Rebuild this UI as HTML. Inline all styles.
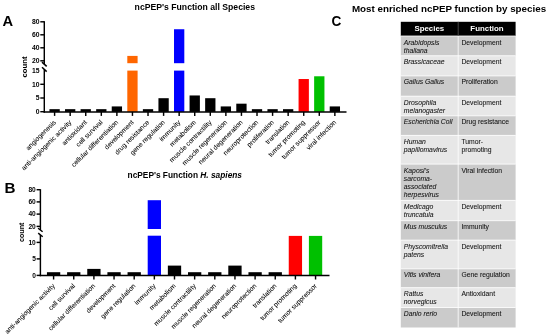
<!DOCTYPE html><html><head><meta charset="utf-8"><style>html,body{margin:0;padding:0;background:#fff;width:550px;height:335px;overflow:hidden}svg{display:block}</style></head><body>
<svg width="550" height="335" viewBox="0 0 550 335">
<rect width="550" height="335" fill="#fff"/>
<text x="194.8" y="10.3" text-anchor="middle" font-family='"Liberation Sans", Arial, sans-serif' font-weight="bold" font-size="8.67">ncPEP&#39;s Function all Species</text>
<text x="184.8" y="178.2" text-anchor="middle" font-family='"Liberation Sans", Arial, sans-serif' font-weight="bold" font-size="8.33">ncPEP&#39;s Function <tspan font-style="italic">H. sapiens</tspan></text>
<text x="2.4" y="25.7" font-family='"Liberation Sans", Arial, sans-serif' font-weight="bold" font-size="14.7">A</text>
<text x="4.6" y="193.4" font-family='"Liberation Sans", Arial, sans-serif' font-weight="bold" font-size="15.2">B</text>
<text transform="translate(331.4,26.0) scale(0.92,1)" font-family='"Liberation Sans", Arial, sans-serif' font-weight="bold" font-size="14.8">C</text>
<text x="449" y="12" text-anchor="middle" font-family='"Liberation Sans", Arial, sans-serif' font-weight="bold" font-size="9.8">Most enriched ncPEP function by species</text>
<rect x="49.45" y="109.16" width="10.30" height="2.74" fill="#000"/>
<rect x="65.02" y="109.16" width="10.30" height="2.74" fill="#000"/>
<rect x="80.59" y="109.16" width="10.30" height="2.74" fill="#000"/>
<rect x="96.16" y="109.16" width="10.30" height="2.74" fill="#000"/>
<rect x="111.73" y="106.42" width="10.30" height="5.48" fill="#000"/>
<rect x="127.30" y="70.60" width="10.30" height="41.30" fill="#ff6600"/>
<rect x="127.30" y="55.91" width="10.30" height="7.29" fill="#ff6600"/>
<rect x="142.87" y="109.16" width="10.30" height="2.74" fill="#000"/>
<rect x="158.44" y="98.20" width="10.30" height="13.70" fill="#000"/>
<rect x="174.01" y="70.60" width="10.30" height="41.30" fill="#0000ff"/>
<rect x="174.01" y="29.24" width="10.30" height="33.96" fill="#0000ff"/>
<rect x="189.58" y="95.46" width="10.30" height="16.44" fill="#000"/>
<rect x="205.15" y="98.20" width="10.30" height="13.70" fill="#000"/>
<rect x="220.72" y="106.42" width="10.30" height="5.48" fill="#000"/>
<rect x="236.29" y="103.68" width="10.30" height="8.22" fill="#000"/>
<rect x="251.86" y="109.16" width="10.30" height="2.74" fill="#000"/>
<rect x="267.43" y="109.16" width="10.30" height="2.74" fill="#000"/>
<rect x="283.00" y="109.16" width="10.30" height="2.74" fill="#000"/>
<rect x="298.57" y="79.02" width="10.30" height="32.88" fill="#ff0000"/>
<rect x="314.14" y="76.28" width="10.30" height="35.62" fill="#00c000"/>
<rect x="329.71" y="106.42" width="10.30" height="5.48" fill="#000"/>
<g stroke="#000" stroke-width="1.45" fill="none">
<line x1="44.3" y1="21.2" x2="44.3" y2="64.2"/>
<line x1="44.3" y1="69.4" x2="44.3" y2="112.625"/>
<line x1="42.0" y1="62.1" x2="46.7" y2="66.4"/>
<line x1="42.0" y1="67.2" x2="46.7" y2="71.6"/>
<line x1="43.574999999999996" y1="111.9" x2="346.5" y2="111.9"/>
<line x1="40.3" y1="21.8" x2="44.3" y2="21.8"/>
<line x1="40.3" y1="34.8" x2="44.3" y2="34.8"/>
<line x1="40.3" y1="47.8" x2="44.3" y2="47.8"/>
<line x1="40.3" y1="60.8" x2="44.3" y2="60.8"/>
<line x1="40.3" y1="84.3" x2="44.3" y2="84.3"/>
<line x1="40.3" y1="98.0" x2="44.3" y2="98.0"/>
<line x1="40.3" y1="111.7" x2="44.3" y2="111.7"/>
<line x1="54.60" y1="111.9" x2="54.60" y2="115.9"/>
<line x1="70.17" y1="111.9" x2="70.17" y2="115.9"/>
<line x1="85.74" y1="111.9" x2="85.74" y2="115.9"/>
<line x1="101.31" y1="111.9" x2="101.31" y2="115.9"/>
<line x1="116.88" y1="111.9" x2="116.88" y2="115.9"/>
<line x1="132.45" y1="111.9" x2="132.45" y2="115.9"/>
<line x1="148.02" y1="111.9" x2="148.02" y2="115.9"/>
<line x1="163.59" y1="111.9" x2="163.59" y2="115.9"/>
<line x1="179.16" y1="111.9" x2="179.16" y2="115.9"/>
<line x1="194.73" y1="111.9" x2="194.73" y2="115.9"/>
<line x1="210.30" y1="111.9" x2="210.30" y2="115.9"/>
<line x1="225.87" y1="111.9" x2="225.87" y2="115.9"/>
<line x1="241.44" y1="111.9" x2="241.44" y2="115.9"/>
<line x1="257.01" y1="111.9" x2="257.01" y2="115.9"/>
<line x1="272.58" y1="111.9" x2="272.58" y2="115.9"/>
<line x1="288.15" y1="111.9" x2="288.15" y2="115.9"/>
<line x1="303.72" y1="111.9" x2="303.72" y2="115.9"/>
<line x1="319.29" y1="111.9" x2="319.29" y2="115.9"/>
<line x1="334.86" y1="111.9" x2="334.86" y2="115.9"/>
</g>
<g font-family='"Liberation Sans", Arial, sans-serif' font-weight="bold" font-size="6.8" text-anchor="end" fill="#000">
<text x="39.5" y="24.2">80</text>
<text x="39.5" y="37.199999999999996">60</text>
<text x="39.5" y="50.199999999999996">40</text>
<text x="39.5" y="63.199999999999996">20</text>
<text x="39.5" y="73.0">15</text>
<text x="39.5" y="86.7">10</text>
<text x="39.5" y="100.4">5</text>
<text x="39.5" y="114.10000000000001">0</text>
</g>
<text transform="translate(26.9,67.0) rotate(-90)" text-anchor="middle" font-family='"Liberation Sans", Arial, sans-serif' font-weight="bold" font-size="7.7">count</text>
<g font-family='"Liberation Sans", Arial, sans-serif' font-size="6.7" text-anchor="end" fill="#000" stroke="#000" stroke-width="0.05">
<text transform="translate(56.30,122.80) rotate(-45)">angiogenesis</text>
<text transform="translate(71.87,122.80) rotate(-45)">anti-angiogenic activity</text>
<text transform="translate(87.44,122.80) rotate(-45)">antioxidant</text>
<text transform="translate(103.01,122.80) rotate(-45)">cell survival</text>
<text transform="translate(118.58,122.80) rotate(-45)">cellular differentiation</text>
<text transform="translate(134.15,122.80) rotate(-45)">development</text>
<text transform="translate(149.72,122.80) rotate(-45)">drug resistance</text>
<text transform="translate(165.29,122.80) rotate(-45)">gene regulation</text>
<text transform="translate(180.86,122.80) rotate(-45)">immunity</text>
<text transform="translate(196.43,122.80) rotate(-45)">metabolism</text>
<text transform="translate(212.00,122.80) rotate(-45)">muscle contractility</text>
<text transform="translate(227.57,122.80) rotate(-45)">muscle regeneration</text>
<text transform="translate(243.14,122.80) rotate(-45)">neural degeneration</text>
<text transform="translate(258.71,122.80) rotate(-45)">neuroprotection</text>
<text transform="translate(274.28,122.80) rotate(-45)">proliferation</text>
<text transform="translate(289.85,122.80) rotate(-45)">translation</text>
<text transform="translate(305.42,122.80) rotate(-45)">tumor promoting</text>
<text transform="translate(320.99,122.80) rotate(-45)">tumor suppressor</text>
<text transform="translate(336.56,122.80) rotate(-45)">viral infection</text>
</g>
<rect x="46.95" y="272.20" width="13.30" height="3.30" fill="#000"/>
<rect x="67.10" y="272.20" width="13.30" height="3.30" fill="#000"/>
<rect x="87.25" y="268.90" width="13.30" height="6.60" fill="#000"/>
<rect x="107.40" y="272.20" width="13.30" height="3.30" fill="#000"/>
<rect x="127.55" y="272.20" width="13.30" height="3.30" fill="#000"/>
<rect x="147.70" y="235.70" width="13.30" height="39.80" fill="#0000ff"/>
<rect x="147.70" y="200.21" width="13.30" height="28.79" fill="#0000ff"/>
<rect x="167.85" y="265.60" width="13.30" height="9.90" fill="#000"/>
<rect x="188.00" y="272.20" width="13.30" height="3.30" fill="#000"/>
<rect x="208.15" y="272.20" width="13.30" height="3.30" fill="#000"/>
<rect x="228.30" y="265.60" width="13.30" height="9.90" fill="#000"/>
<rect x="248.45" y="272.20" width="13.30" height="3.30" fill="#000"/>
<rect x="268.60" y="272.20" width="13.30" height="3.30" fill="#000"/>
<rect x="288.75" y="235.90" width="13.30" height="39.60" fill="#ff0000"/>
<rect x="308.90" y="235.90" width="13.30" height="39.60" fill="#00c000"/>
<g stroke="#000" stroke-width="1.45" fill="none">
<line x1="40.4" y1="189.2" x2="40.4" y2="230.0"/>
<line x1="40.4" y1="234.9" x2="40.4" y2="276.225"/>
<line x1="38.1" y1="228.3" x2="42.6" y2="231.8"/>
<line x1="38.2" y1="233.1" x2="42.7" y2="236.7"/>
<line x1="39.675" y1="275.5" x2="329.5" y2="275.5"/>
<line x1="36.6" y1="189.7" x2="40.4" y2="189.7"/>
<line x1="36.6" y1="201.9" x2="40.4" y2="201.9"/>
<line x1="36.6" y1="214.1" x2="40.4" y2="214.1"/>
<line x1="36.6" y1="226.4" x2="40.4" y2="226.4"/>
<line x1="36.6" y1="242.4" x2="40.4" y2="242.4"/>
<line x1="36.6" y1="258.9" x2="40.4" y2="258.9"/>
<line x1="36.6" y1="275.4" x2="40.4" y2="275.4"/>
<line x1="53.60" y1="275.5" x2="53.60" y2="279.5"/>
<line x1="73.75" y1="275.5" x2="73.75" y2="279.5"/>
<line x1="93.90" y1="275.5" x2="93.90" y2="279.5"/>
<line x1="114.05" y1="275.5" x2="114.05" y2="279.5"/>
<line x1="134.20" y1="275.5" x2="134.20" y2="279.5"/>
<line x1="154.35" y1="275.5" x2="154.35" y2="279.5"/>
<line x1="174.50" y1="275.5" x2="174.50" y2="279.5"/>
<line x1="194.65" y1="275.5" x2="194.65" y2="279.5"/>
<line x1="214.80" y1="275.5" x2="214.80" y2="279.5"/>
<line x1="234.95" y1="275.5" x2="234.95" y2="279.5"/>
<line x1="255.10" y1="275.5" x2="255.10" y2="279.5"/>
<line x1="275.25" y1="275.5" x2="275.25" y2="279.5"/>
<line x1="295.40" y1="275.5" x2="295.40" y2="279.5"/>
<line x1="315.55" y1="275.5" x2="315.55" y2="279.5"/>
</g>
<g font-family='"Liberation Sans", Arial, sans-serif' font-weight="bold" font-size="6.6" text-anchor="end" fill="#000">
<text x="35.800000000000004" y="192.0">80</text>
<text x="35.800000000000004" y="204.20000000000002">60</text>
<text x="35.800000000000004" y="216.4">40</text>
<text x="35.800000000000004" y="228.70000000000002">20</text>
<text x="35.800000000000004" y="244.70000000000002">10</text>
<text x="35.800000000000004" y="261.2">5</text>
<text x="35.800000000000004" y="277.7">0</text>
</g>
<text transform="translate(23.8,232.3) rotate(-90)" text-anchor="middle" font-family='"Liberation Sans", Arial, sans-serif' font-weight="bold" font-size="7.2">count</text>
<g font-family='"Liberation Sans", Arial, sans-serif' font-size="6.7" text-anchor="end" fill="#000" stroke="#000" stroke-width="0.05">
<text transform="translate(55.30,286.40) rotate(-45)">anti-angiogenic activity</text>
<text transform="translate(75.45,286.40) rotate(-45)">cell survival</text>
<text transform="translate(95.60,286.40) rotate(-45)">cellular differentiation</text>
<text transform="translate(115.75,286.40) rotate(-45)">development</text>
<text transform="translate(135.90,286.40) rotate(-45)">gene regulation</text>
<text transform="translate(156.05,286.40) rotate(-45)">immunity</text>
<text transform="translate(176.20,286.40) rotate(-45)">metabolism</text>
<text transform="translate(196.35,286.40) rotate(-45)">muscle contractility</text>
<text transform="translate(216.50,286.40) rotate(-45)">muscle regeneration</text>
<text transform="translate(236.65,286.40) rotate(-45)">neural degeneration</text>
<text transform="translate(256.80,286.40) rotate(-45)">neuroprotection</text>
<text transform="translate(276.95,286.40) rotate(-45)">translation</text>
<text transform="translate(297.10,286.40) rotate(-45)">tumor promoting</text>
<text transform="translate(317.25,286.40) rotate(-45)">tumor suppressor</text>
</g>
<rect x="400.8" y="21.8" width="114.80000000000001" height="14.2" fill="#000"/>
<rect x="400.8" y="36.0" width="114.80000000000001" height="19.799999999999997" fill="#cbcbcb"/>
<rect x="400.8" y="55.8" width="114.80000000000001" height="20.10000000000001" fill="#e7e7e7"/>
<rect x="400.8" y="75.9" width="114.80000000000001" height="20.299999999999997" fill="#cbcbcb"/>
<rect x="400.8" y="96.2" width="114.80000000000001" height="19.599999999999994" fill="#e7e7e7"/>
<rect x="400.8" y="115.8" width="114.80000000000001" height="19.60000000000001" fill="#cbcbcb"/>
<rect x="400.8" y="135.4" width="114.80000000000001" height="28.69999999999999" fill="#e7e7e7"/>
<rect x="400.8" y="164.1" width="114.80000000000001" height="36.30000000000001" fill="#cbcbcb"/>
<rect x="400.8" y="200.4" width="114.80000000000001" height="20.299999999999983" fill="#e7e7e7"/>
<rect x="400.8" y="220.7" width="114.80000000000001" height="19.400000000000006" fill="#cbcbcb"/>
<rect x="400.8" y="240.1" width="114.80000000000001" height="28.700000000000017" fill="#e7e7e7"/>
<rect x="400.8" y="268.8" width="114.80000000000001" height="18.899999999999977" fill="#cbcbcb"/>
<rect x="400.8" y="287.7" width="114.80000000000001" height="19.80000000000001" fill="#e7e7e7"/>
<rect x="400.8" y="307.5" width="114.80000000000001" height="20.0" fill="#cbcbcb"/>
<g stroke="#fff" stroke-width="0.8">
<line x1="400.8" y1="36.0" x2="515.6" y2="36.0"/>
<line x1="400.8" y1="55.8" x2="515.6" y2="55.8"/>
<line x1="400.8" y1="75.9" x2="515.6" y2="75.9"/>
<line x1="400.8" y1="96.2" x2="515.6" y2="96.2"/>
<line x1="400.8" y1="115.8" x2="515.6" y2="115.8"/>
<line x1="400.8" y1="135.4" x2="515.6" y2="135.4"/>
<line x1="400.8" y1="164.1" x2="515.6" y2="164.1"/>
<line x1="400.8" y1="200.4" x2="515.6" y2="200.4"/>
<line x1="400.8" y1="220.7" x2="515.6" y2="220.7"/>
<line x1="400.8" y1="240.1" x2="515.6" y2="240.1"/>
<line x1="400.8" y1="268.8" x2="515.6" y2="268.8"/>
<line x1="400.8" y1="287.7" x2="515.6" y2="287.7"/>
<line x1="400.8" y1="307.5" x2="515.6" y2="307.5"/>
<line x1="458.2" y1="36" x2="458.2" y2="327.5"/>
</g>
<line x1="458.2" y1="21.8" x2="458.2" y2="36" stroke="#555" stroke-width="0.8"/>
<g font-family='"Liberation Sans", Arial, sans-serif' font-weight="bold" font-size="7.9" fill="#fff" text-anchor="middle"><text x="429.3" y="30.6">Species</text><text x="487" y="30.6">Function</text></g>
<g font-family='"Liberation Sans", Arial, sans-serif' font-size="6.8" fill="#111" stroke="#111" stroke-width="0.06" xml:space="preserve">
<text x="403.8" y="44.50" font-style="italic">Arabidopsis</text>
<text x="403.8" y="52.60" font-style="italic">thaliana</text>
<text x="461.4" y="44.50">Development</text>
<text x="403.8" y="64.30" font-style="italic">Brassicaceae</text>
<text x="461.4" y="64.30">Development</text>
<text x="403.8" y="84.40" font-style="italic">Gallus  Gallus</text>
<text x="461.4" y="84.40">Proliferation</text>
<text x="403.8" y="104.70" font-style="italic">Drosophila</text>
<text x="403.8" y="112.80" font-style="italic">melanogaster</text>
<text x="461.4" y="104.70">Development</text>
<text x="403.8" y="124.30" font-style="italic">Escherichia  Coli</text>
<text x="461.4" y="124.30">Drug resistance</text>
<text x="403.8" y="143.90" font-style="italic">Human</text>
<text x="403.8" y="152.00" font-style="italic">papillomavirus</text>
<text x="461.4" y="143.90">Tumor-</text>
<text x="461.4" y="152.00">promoting</text>
<text x="403.8" y="172.60" font-style="italic">Kaposi&#8217;s</text>
<text x="403.8" y="180.70" font-style="italic">sarcoma-</text>
<text x="403.8" y="188.80" font-style="italic">associated</text>
<text x="403.8" y="196.90" font-style="italic">herpesvirus</text>
<text x="461.4" y="172.60">Viral infection</text>
<text x="403.8" y="208.90" font-style="italic">Medicago</text>
<text x="403.8" y="217.00" font-style="italic">truncatula</text>
<text x="461.4" y="208.90">Development</text>
<text x="403.8" y="229.20" font-style="italic">Mus musculus</text>
<text x="461.4" y="229.20">Immunity</text>
<text x="403.8" y="248.60" font-style="italic">Physcomitrella</text>
<text x="403.8" y="256.70" font-style="italic">patens</text>
<text x="461.4" y="248.60">Development</text>
<text x="403.8" y="277.30" font-style="italic">Vitis  vinifera</text>
<text x="461.4" y="277.30">Gene regulation</text>
<text x="403.8" y="296.20" font-style="italic">Rattus</text>
<text x="403.8" y="304.30" font-style="italic">norvegicus</text>
<text x="461.4" y="296.20">Antioxidant</text>
<text x="403.8" y="316.00" font-style="italic">Danio rerio</text>
<text x="461.4" y="316.00">Development</text>
</g>
</svg></body></html>
